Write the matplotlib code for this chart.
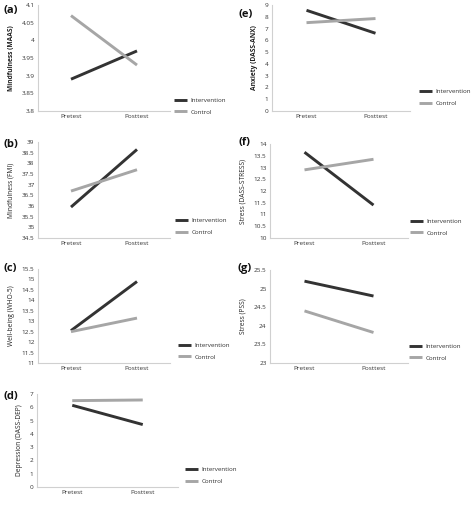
import matplotlib
matplotlib.use("Agg")
import matplotlib.pyplot as plt
from matplotlib.ticker import FuncFormatter, MultipleLocator

plt.rcParams['font.family'] = ['Open Sans', 'DejaVu Sans']

W, H = 474, 515

categories = ["Pretest", "Posttest"]
series_names = ["Intervention", "Control"]

# panel data
maas_int = [3.89, 3.97]
maas_ctl = [4.07, 3.93]
fmi_int = [35.95, 38.65]
fmi_ctl = [36.7, 37.7]
who_int = [12.55, 14.9]
who_ctl = [12.5, 13.15]
dep_int = [6.15, 4.7]
dep_ctl = [6.5, 6.55]
anx_int = [8.55, 6.6]
anx_ctl = [7.5, 7.85]
str_int = [13.65, 11.4]
str_ctl = [12.9, 13.35]
pss_int = [25.2, 24.8]
pss_ctl = [24.4, 23.82]

panels = [
    # label, ylabel, int, ctl, ymin, ymax, step, box(left,right,top,bottom px), legend(x, y1, y2), label pos, bold ylabel
    ("(a)", "Mindfulness (MAAS)", maas_int, maas_ctl, 3.8, 4.1, 0.05, (38, 170, 5, 111), (174, 99, 113), (3, 10), True),
    ("(b)", "Mindfulness (FMI)", fmi_int, fmi_ctl, 34.5, 39, 0.5, (38, 170, 142, 238), (175, 220, 233), (3, 145), False),
    ("(c)", "Well-being (WHO-5)", who_int, who_ctl, 11, 15.5, 0.5, (38, 170, 269, 363), (178, 345, 357), (3, 268), False),
    ("(d)", "Depression (DASS-DEP)", dep_int, dep_ctl, 0, 7, 1, (37, 178, 394, 487), (185, 469, 482), (3, 396), False),
    ("(e)", "Anxiety (DASS-ANX)", anx_int, anx_ctl, 0, 9, 1, (272, 410, 5, 111), (419, 91, 104), (239, 14), True),
    ("(f)", "Stress (DASS-STRESS)", str_int, str_ctl, 10, 14, 0.5, (270, 408, 144, 238), (410, 221, 233), (239, 143), False),
    ("(g)", "Stress (PSS)", pss_int, pss_ctl, 23, 25.5, 0.5, (270, 408, 270, 363), (409, 346, 358), (238, 268), False),
]

fig = plt.figure(figsize=(W / 100, H / 100), dpi=100)
fig.patch.set_facecolor("white")

fmt = FuncFormatter(lambda v, p: "{:g}".format(round(v, 4)))

for lab, ylab, yi, yc, ymin, ymax, step, box, leg, lpos, bold in panels:
    l, r, t, b = box
    ax = fig.add_axes([l / W, 1 - b / H, (r - l) / W, (b - t) / H])
    x = list(range(len(categories)))
    h1, = ax.plot(x, yi, color="#333333", lw=2.1, solid_capstyle="butt", label=series_names[0])
    h2, = ax.plot(x, yc, color="#a6a6a6", lw=2.1, solid_capstyle="butt", label=series_names[1])
    ax.set_xlim(-0.5, 1.5)
    ax.set_ylim(ymin, ymax)
    ax.yaxis.set_major_locator(MultipleLocator(step))
    ax.yaxis.set_major_formatter(fmt)
    ax.set_xticks(x)
    ax.set_xticklabels(categories)
    ax.tick_params(axis="both", length=0, labelsize=4.6, colors="#333333", pad=2.5)
    for s in ["top", "right"]:
        ax.spines[s].set_visible(False)
    for s in ["left", "bottom"]:
        ax.spines[s].set_color("#d0d0d0")
        ax.spines[s].set_linewidth(0.8)
    ax.set_ylabel(ylab, fontsize=4.8, fontweight="bold" if bold else "normal", color="#222222", labelpad=5)
    lx, ly1, ly2 = leg
    ax.legend(handles=[h1, h2], loc="center left",
              bbox_to_anchor=(lx / W, 1 - ((ly1 + ly2) / 2) / H),
              bbox_transform=fig.transFigure, frameon=False, fontsize=4.5,
              handlelength=2.1, handletextpad=0.5, labelspacing=1.05,
              borderpad=0, borderaxespad=0, labelcolor="#333333")
    fig.text(lpos[0] / W, 1 - lpos[1] / H, lab, fontsize=8, fontweight="bold",
             ha="left", va="center", color="#111111")

fig.savefig("out.png", dpi=100, facecolor="white")
